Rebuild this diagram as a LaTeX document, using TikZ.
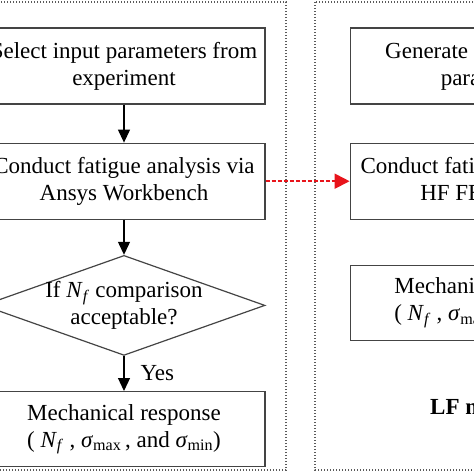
\documentclass[tikz,border=0pt]{standalone}
\usepackage{fontspec}
\setmainfont{Liberation Serif}
\usepackage{tikz}
\usetikzlibrary{
  shapes.geometric,
  arrows.meta,
  positioning
}
\definecolor{FrameGray}{HTML}{5A5A5A}
\definecolor{LineGray}{HTML}{444444}
\definecolor{LinkRed}{HTML}{E8141B}
\newcommand{\Nf}{\textit{N}\textsubscript{\textit{f}}}
\newcommand{\sgm}[1]{\textit{σ}\textsubscript{#1}}
\tikzset{
  % Process box: fixed size
  box/.style={
    rectangle, draw=#1, line width=1.2pt,
    minimum width=282pt, minimum height=76pt,
    align=center, inner sep=0pt,
    font=\fontsize{23}{27}\selectfont
  },
  box/.default=LineGray,
  % Decision diamond (text set on its own)
  dec/.style={
    diamond, draw=LineGray, line width=1.2pt,
    minimum width=282pt, minimum height=100pt, inner sep=0pt
  },
  % Plain text
  lbl/.style={font=\fontsize{23}{27}\selectfont, align=center, inner sep=0pt},
  % Arrow
  arr/.style={
    -{Triangle[length=13pt,width=12pt]},
    line width=1.2pt, color=#1
  },
  arr/.default=black,
  % Red dashed link
  link/.style={
    -{Triangle[length=15pt,width=15pt]},
    line width=1.8pt, color=LinkRed, dash pattern=on 4pt off 2pt
  },
  % Dotted group outline
  grp/.style={draw=FrameGray, line width=1.3pt, dash pattern=on 1.1pt off 1.9pt}
}
\begin{document}
\begin{tikzpicture}[x=1pt, y=-1pt]

  \useasboundingbox (0,0) rectangle (474,474);
  \clip (0,0) rectangle (474,474);

  % Groups
  \draw[grp] (-30,2) rectangle (286,470);
  \draw[grp] (315,2) rectangle (520,470);

  % Left column
  \node[box] (sel) at (124,66) {Select input parameters from\\experiment};
  \node[box, below=38pt of sel] (fea) {Conduct fatigue analysis via\\Ansys Workbench};
  \node[dec, below=35pt of fea] (chk) {};
  \node[lbl] (chktxt) at (chk.center) {If \Nf{} comparison\\acceptable?};
  \node[box, minimum height=75pt, below=35pt of chk] (resp)
    {Mechanical response\\(\ \Nf\ , \sgm{max}\,, and \sgm{min})};

  % Right column
  \node[box, right=84pt of sel] (gen) {Generate random input\\parameters};
  \node[box, right=84pt of fea] (hfea) {Conduct fatigue analysis via\\HF FE analysis};
  \node[box, minimum height=75pt, below=45pt of hfea] (resp2)
    {Mechanical response\\(\ \Nf\ , \sgm{max}\,, and \sgm{min})};
  \node[lbl, anchor=west, font=\fontsize{23}{27}\selectfont\bfseries] (lfm) at (430,407) {LF model};

  % Connectors
  \draw[arr] (sel) -- (fea);
  \draw[arr] (fea) -- (chk);
  \draw[arr] (chk) -- node[lbl, right=16pt]{Yes} (resp);
  \draw[link] (fea) -- (hfea);

\end{tikzpicture}
\end{document}
